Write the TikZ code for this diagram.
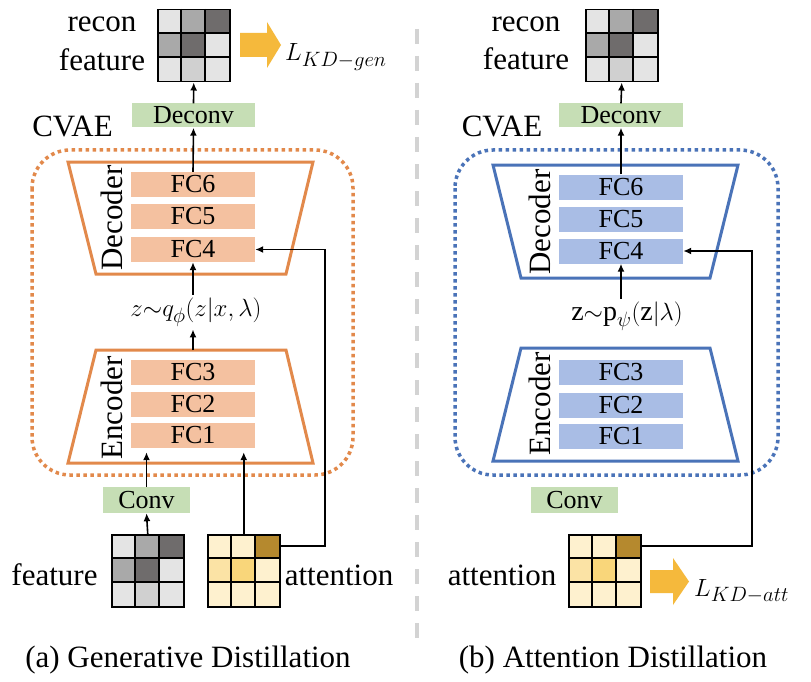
\documentclass[tikz,border=0pt]{standalone}
\usepackage{fontspec}
\setmainfont{Liberation Serif}
\usetikzlibrary{arrows.meta,calc}
\definecolor{ga}{HTML}{E4E4E4}
\definecolor{gb}{HTML}{A9A9A9}
\definecolor{gc}{HTML}{6F6C6C}
\definecolor{gd}{HTML}{D0D0D0}
\definecolor{aa}{HTML}{FEF1CF}
\definecolor{ab}{HTML}{FBE3A5}
\definecolor{ac}{HTML}{F9D67A}
\definecolor{ad}{HTML}{B5892E}
\definecolor{fcor}{HTML}{F4C1A0}
\definecolor{stor}{HTML}{E2894B}
\definecolor{fcbl}{HTML}{A9BDE5}
\definecolor{stbl}{HTML}{4A73B8}
\definecolor{convg}{HTML}{C6DEB5}
\definecolor{goldar}{HTML}{F5B93C}
\definecolor{sepg}{HTML}{D3D3D3}
\newcommand\cellgrid[4]{%
 \foreach \cl [count=\k from 0] in {#4} {%
   \pgfmathtruncatemacro\rr{floor(\k/3)}%
   \pgfmathtruncatemacro\cc{mod(\k,3)}%
   \fill[\cl] ({#2+\cc*24},{#3+\rr*24}) rectangle ++(24,24);
 }%
 \foreach \t in {24,48} {\draw[gridline] ({#2+\t},#3) -- ({#2+\t},{#3+72}); \draw[gridline] (#2,{#3+\t}) -- ({#2+72},{#3+\t});}%
 \node[gridbox, anchor=north west] (#1) at (#2,#3) {};
}
\tikzset{
 gridline/.style={line width=1.5pt, black},
 gridbox/.style={draw, line width=1.5pt, minimum width=72pt, minimum height=72pt, inner sep=0pt},
 lab/.style={font=\fontsize{31}{36}\selectfont, inner sep=0pt},
 fcbox/.style={minimum width=124pt, minimum height=25pt, inner sep=0pt, font=\fontsize{26}{30}\selectfont},
 fcO/.style={fcbox, fill=fcor},
 fcB/.style={fcbox, fill=fcbl},
 convbox/.style={fill=convg, minimum height=24pt, inner sep=0pt, font=\fontsize{26}{30}\selectfont},
 arr/.style={line width=1.6pt, -{Latex[length=8pt,width=7pt]}},
 trapO/.style={draw=stor, line width=3pt, line join=miter},
 trapB/.style={draw=stbl, line width=3pt, line join=miter},
 dotO/.style={draw=stor, line width=3.5pt, dash pattern=on 3.5pt off 3.5pt, rounded corners=38pt},
 dotB/.style={draw=stbl, line width=3.5pt, dash pattern=on 3.5pt off 3.5pt, rounded corners=38pt},
 rotlab/.style={font=\fontsize{31}{36}\selectfont, rotate=90, inner sep=0pt},
 zlab/.style={font=\fontsize{28}{32}\selectfont, inner sep=3pt},
 losslab/.style={font=\fontsize{31}{36}\selectfont, inner sep=0pt, anchor=base west},
 fatarrow/.style={fill=goldar, draw=none},
}
\begin{document}
\begin{tikzpicture}[x=1pt,y=-1pt]
\useasboundingbox (0,0) rectangle (811,682);
\fill[white] (0,0) rectangle (811,682);

% separator
\draw[sepg, line width=4pt, dash pattern=on 15pt off 12pt] (417,29) -- (417,645);

%================ LEFT PANEL ================
\draw[dotO] (32,150) rectangle (353,475);
\draw[trapO] (68,162) -- (313,162) -- (286,274) -- (96,274) -- cycle;
\draw[trapO] (96,350) -- (286,350) -- (313,463) -- (68,463) -- cycle;
\node[rotlab] (decL) at (112,218) {Decoder};
\node[rotlab] (encL) at (112,408) {Encoder};

\node[fcO] (fc6L) at (193,184.5) {FC6};
\node[fcO] (fc5L) at (193,216.5) {FC5};
\node[fcO] (fc4L) at (193,249.5) {FC4};
\node[fcO] (fc3L) at (193,372) {FC3};
\node[fcO] (fc2L) at (193,404.5) {FC2};
\node[fcO] (fc1L) at (193,435.5) {FC1};

\node[zlab] (zL) at (196,312) {$z{\sim}q_{\phi}(z|x,\lambda)$};
\coordinate (encLtop) at (193,350);

\node[convbox, minimum width=123pt] (deconvL) at (193.5,115.5) {Deconv};
\node[convbox, minimum width=87pt, minimum height=26pt] (convL) at (146.5,500) {Conv};

\cellgrid{reconL}{157}{9}{ga,gb,gc,gb,gc,ga,ga,gd,ga}
\cellgrid{featL}{111}{534}{ga,gb,gc,gb,gc,ga,ga,gd,ga}
\cellgrid{attL}{207}{534}{aa,aa,ad,ab,ac,aa,aa,aa,aa}

\node[lab, anchor=base] (reconTL) at (102,32) {recon};
\node[lab, anchor=base] (featTL) at (102,71) {feature};
\node[lab, anchor=base] (cvaeL) at (72.5,137) {CVAE};
\node[lab, anchor=base] (featBL) at (54.5,585) {feature};
\node[lab, anchor=base] (attBL) at (339,585) {attention};
\node[lab, anchor=base] (capL) at (188,667) {(a) Generative Distillation};

\fill[fatarrow] (240,33) -- (267,33) -- (267,22) -- (281,45) -- (267,68) -- (267,57) -- (240,57) -- cycle;
\node[losslab] (lossL) at (285,61) {$L_{KD-gen}$};

\draw[arr] (deconvL.north) -- (reconL.south);
\draw[arr] (fc6L.north) -- (deconvL.south);
\draw[arr] (fc4L.south |- zL.north) -- (fc4L.south);
\draw[arr] (encLtop) -- (encLtop |- zL.south);
\draw[arr] (featL.north) -- (convL.south);
\draw[arr, shorten >=4pt] (convL.north) -- (convL.north |- fc1L.south);
\draw[arr, shorten >=4pt] (attL.north) -- (attL.north |- fc1L.south);
\coordinate (turnL) at (325,546);
\draw[arr] ([yshift=-12pt]attL.north east) -- (turnL) |- (fc4L.east);

%================ RIGHT PANEL ================
\draw[dotB] (455,150) rectangle (778,475);
\draw[trapB] (493,165) -- (738,165) -- (710,278) -- (521,278) -- cycle;
\draw[trapB] (521,348) -- (710,348) -- (738,461) -- (493,461) -- cycle;
\node[rotlab] (decR) at (540,222) {Decoder};
\node[rotlab] (encR) at (540,404) {Encoder};

\node[fcB] (fc6R) at (621,187) {FC6};
\node[fcB] (fc5R) at (621,219) {FC5};
\node[fcB] (fc4R) at (621,251) {FC4};
\node[fcB] (fc3R) at (621,372.5) {FC3};
\node[fcB] (fc2R) at (621,405) {FC2};
\node[fcB] (fc1R) at (621,436) {FC1};

\node[zlab] (zR) at (627,316) {$\mathrm{z}{\sim}\mathrm{p}_{\psi}(\mathrm{z}|\lambda)$};

\node[convbox, minimum width=124pt] (deconvR) at (621,115.5) {Deconv};
\node[convbox, minimum width=87pt, minimum height=26pt] (convR) at (574.5,500) {Conv};

\cellgrid{reconR}{585}{9}{ga,gb,gc,gb,gc,ga,ga,gd,ga}
\cellgrid{attR}{568}{534}{aa,aa,ad,ab,ac,aa,aa,aa,aa}

\node[lab, anchor=base] (reconTR) at (526,32) {recon};
\node[lab, anchor=base] (featTR) at (526,70) {feature};
\node[lab, anchor=base] (cvaeR) at (502,137) {CVAE};
\node[lab, anchor=base] (attBR) at (502,585) {attention};
\node[lab, anchor=base] (capR) at (613,667) {(b) Attention Distillation};

\fill[fatarrow] (650,570) -- (673,570) -- (673,558) -- (689,581.5) -- (673,605) -- (673,593) -- (650,593) -- cycle;
\node[losslab] (lossR) at (694,596) {$L_{KD-att}$};

\draw[arr] (deconvR.north) -- (reconR.south);
\draw[arr] (fc6R.north) -- (deconvR.south);
\draw[arr] (fc4R.south |- zR.north) -- (fc4R.south);
\coordinate (turnR) at (752,546);
\draw[arr] ([yshift=-12pt]attR.north east) -- (turnR) |- (fc4R.east);
\end{tikzpicture}
\end{document}
